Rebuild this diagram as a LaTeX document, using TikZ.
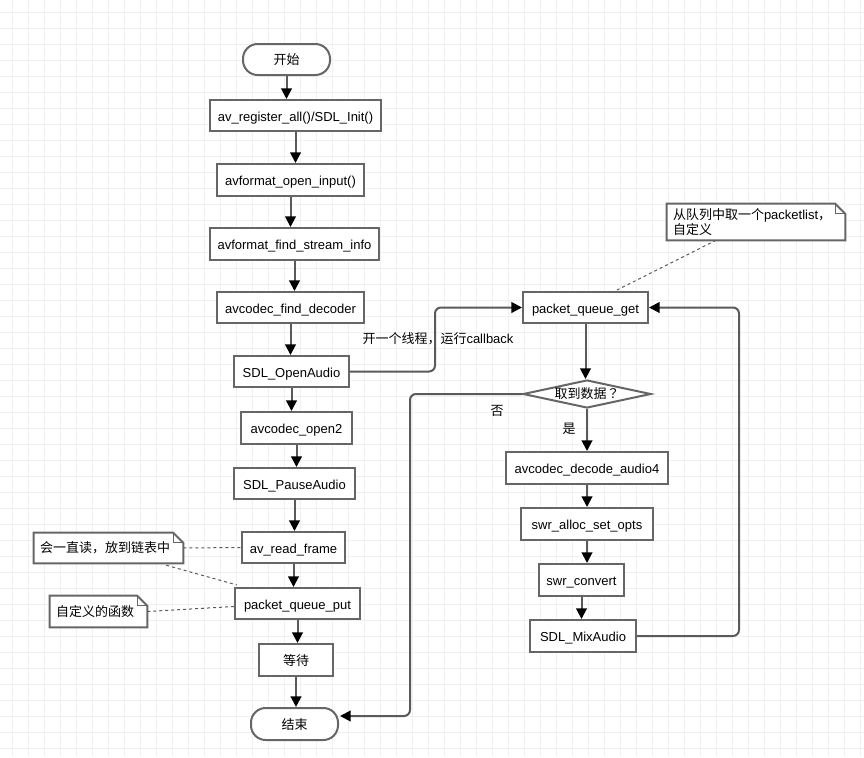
\documentclass[tikz,border=0pt]{standalone}
\usepackage{fontspec}
\setmainfont{Liberation Sans}
\newfontfamily\cjk{Noto Sans CJK SC}
\newfontfamily\cjktc{Noto Sans CJK TC}
\usetikzlibrary{arrows.meta,shapes.geometric,calc,backgrounds}
\definecolor{gridc}{RGB}{240,240,240}
\definecolor{bordc}{RGB}{102,102,102}
\definecolor{linec}{RGB}{90,90,90}
\tikzset{
  fbox/.style 2 args={draw=bordc, line width=1.5pt, fill=white, inner sep=0pt,
    minimum width=#1*0.75pt, minimum height=#2*0.75pt,
    text height=10pt, text depth=1.2pt,
    font=\fontsize{9.75pt}{11pt}\selectfont},
  cjkbox/.style={text height=8.8pt, text depth=1.2pt},
  term/.style 2 args={fbox={#1}{#2}, cjkbox, rounded corners=11pt},
  decision/.style={diamond, aspect=4.5, draw=bordc, line width=1.5pt, fill=white,
    inner sep=0pt, minimum width=96pt, minimum height=21pt,
    font=\fontsize{9.75pt}{11pt}\selectfont},
  conn/.style={draw=linec, line width=1.5pt, -{Triangle[length=8pt,width=8pt,color=black]}},
  loopconn/.style={conn, rounded corners=4.5pt},
  lbl/.style={inner sep=0pt, font=\fontsize{9.75pt}{11pt}\selectfont},
  notebox/.style={inner xsep=4.5pt, inner ysep=0pt, align=left,
    font=\fontsize{9.75pt}{9.9pt}\selectfont},
  notebd/.style={draw=bordc, line width=1.5pt, fill=white},
  notelink/.style={draw=linec, line width=0.75pt, dash pattern=on 2.25pt off 2.25pt},
  gridline/.style={draw=gridc, line width=0.75pt}
}
\begin{document}
\begin{tikzpicture}[x=0.75pt,y=-0.75pt]
\useasboundingbox (0,0) rectangle (864,757);
\begin{scope}[on background layer]
  \fill[white] (0,0) rectangle (864,757);
  \foreach \i in {0,...,53} \draw[gridline] (12+16*\i,0) -- (12+16*\i,757);
  \foreach \i in {0,...,46} \draw[gridline] (0,12+16*\i) -- (864,12+16*\i);
\end{scope}

% left column
\node[term={87}{31}] (start) at (286.5,59.5) {\cjk 开始};
\node[fbox={171}{31}] (reg) at (295.5,115.5) {av\_register\_all()/SDL\_Init()};
\node[fbox={147}{32}] (open) at (290.5,180) {avformat\_open\_input()};
\node[fbox={169}{32}] (find) at (294.5,244) {avformat\_find\_stream\_info};
\node[fbox={147}{31}] (dec) at (290.5,307.5) {avcodec\_find\_decoder};
\node[fbox={115}{31}] (sdlopen) at (291.5,371.5) {SDL\_OpenAudio};
\node[fbox={111}{32}] (open2) at (296.5,428) {avcodec\_open2};
\node[fbox={121}{31}] (pause) at (294.5,483.5) {SDL\_PauseAudio};
\node[fbox={103}{31}] (read) at (293.5,547.5) {av\_read\_frame};
\node[fbox={125}{31}] (put) at (297.5,603.5) {packet\_queue\_put};
\node[fbox={74}{32}, cjkbox] (wait) at (296,660) {\cjk 等待};
\node[term={87}{32}] (end) at (294.5,724) {\cjk 结束};

% right column
\node[fbox={125}{31}] (get) at (585.5,307.5) {packet\_queue\_get};
\node[decision] (chk) at (587,394) {{\cjk 取到数据}{\cjktc ？}};
\node[fbox={162}{32}] (decode) at (587,468) {avcodec\_decode\_audio4};
\node[fbox={132}{32}] (alloc) at (587,524) {swr\_alloc\_set\_opts};
\node[fbox={85}{32}] (conv) at (581.5,580) {swr\_convert};
\node[fbox={106}{32}] (mix) at (583,636) {SDL\_MixAudio};

% labels
\node[lbl] (l1) at (438,339) {{\cjk 开一个线程，运行}callback};
\node[lbl] (l2) at (497,411) {\cjk 否};
\node[lbl] (l3) at (569,429) {\cjk 是};

% notes
\node[notebox, text width=124.5pt, minimum height=27pt] (n1) at (756,222)
  {{\cjk 从队列中取一个}packetlist{\cjk ，}\\{\cjk 自定义}};
\node[notebox, text width=102.75pt, minimum height=22.5pt] (n2) at (108.5,548)
  {\cjk 会一直读，放到链表中};
\node[notebox, text width=63.75pt, minimum height=23.25pt] (n3) at (98.5,611.5)
  {\cjk 自定义的函数};
\begin{scope}[on background layer]
\foreach \n in {n1,n2,n3} {
  \draw[notebd] (\n.south west) -- (\n.north west) -- ($(\n.north east)+(-10,0)$)
     -- ($(\n.north east)+(0,10)$) -- (\n.south east) -- cycle;
  \draw[draw=bordc, line width=0.75pt] ($(\n.north east)+(-10,0)$) -- ($(\n.north east)+(-10,10)$) -- ($(\n.north east)+(0,10)$);
}
\end{scope}

% note links
\draw[notelink] ($(n1.south)+(-40,0)$) -- ($(get.north)+(31.5,-1)$);
\draw[notelink] (n2.east) -- (read.west);
\draw[notelink] ($(n2.south east)+(-17,2)$) -- ($(put.north west)+(3,-2)$);
\draw[notelink] (n3.east) -- ($(put.west)+(0,3)$);

% vertical connectors
\foreach \a/\b in {start/reg,reg/open,open/find,find/dec,dec/sdlopen,sdlopen/open2,
  open2/pause,pause/read,read/put,put/wait,wait/end,
  get/chk,chk/decode,decode/alloc,alloc/conv,conv/mix}
  \draw[conn] (\a.south) -- (\a.south |- \b.north);

% loop connectors
\coordinate (cx1) at (435,0);
\coordinate (cx2) at (410,0);
\coordinate (cx3) at (739,0);
\draw[loopconn] (sdlopen.east) -- (sdlopen.east -| cx1) -- (get.west -| cx1) -- (get.west);
\draw[loopconn] (chk.west) -- (chk.west -| cx2) -- ($(end.east -| cx2)+(0,-8)$) -- ($(end.east)+(1,-8)$);
\draw[loopconn] (mix.east) -- (mix.east -| cx3) -- (get.east -| cx3) -- (get.east);
\end{tikzpicture}
\end{document}
